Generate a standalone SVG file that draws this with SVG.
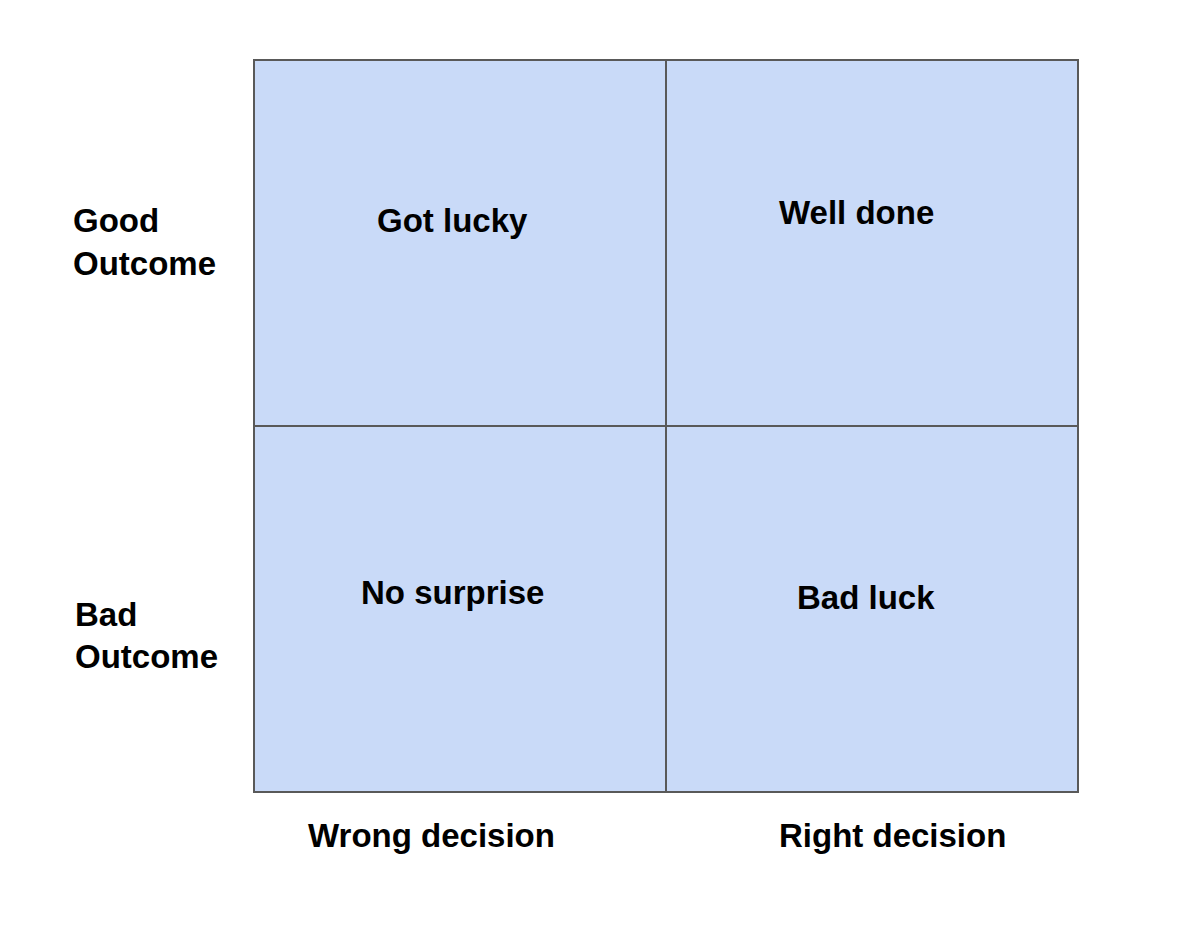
<svg xmlns="http://www.w3.org/2000/svg" width="1200" height="949" viewBox="0 0 1200 949">
<style>
.c{fill:#c9daf8;stroke:#595959;stroke-width:2}
text{font-family:"Liberation Sans",Arial,sans-serif;font-weight:bold;font-size:33px;fill:#000}
</style>
<rect width="1200" height="949" fill="#fff"/>
<g id="q1"><rect class="c" x="254" y="60" width="412" height="366"/><text x="377" y="232">Got lucky</text></g>
<g id="q2"><rect class="c" x="666" y="60" width="412" height="366"/><text x="779" y="224">Well done</text></g>
<g id="q3"><rect class="c" x="254" y="426" width="412" height="366"/><text x="361" y="604">No surprise</text></g>
<g id="q4"><rect class="c" x="666" y="426" width="412" height="366"/><text x="797" y="609">Bad luck</text></g>
<g id="labels">
<text x="73" y="232">Good</text><text x="73" y="275">Outcome</text>
<text x="75" y="626">Bad</text><text x="75" y="668">Outcome</text>
<text x="308" y="847">Wrong decision</text>
<text x="779" y="847">Right decision</text>
</g>
<g id="connectors"/>
</svg>
